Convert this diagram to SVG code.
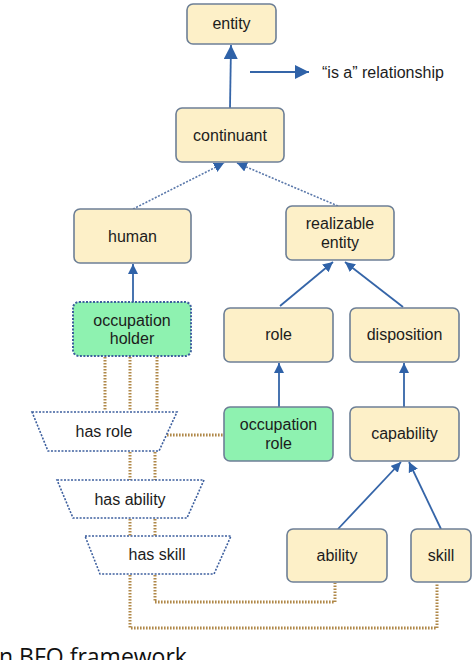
<svg xmlns="http://www.w3.org/2000/svg" width="474" height="660" viewBox="0 0 474 660">
<style>
.box{fill:#fdf0c8;stroke:#6d7f96;stroke-width:1.6}
.green{fill:#8ef2b0;stroke:#6d7f96;stroke-width:1.6}
.greendot{fill:#8ef2b0;stroke:#3d5f9e;stroke-width:2;stroke-dasharray:2 1.5}
.trap{fill:#ffffff;stroke:#3d5f9e;stroke-width:1.6;stroke-dasharray:2 1.5}
.t{font-family:"Liberation Sans",Arial,sans-serif;font-size:16px;fill:#1c1c1c;text-anchor:middle}
.isa{fill:none;stroke:#3565a8;stroke-width:1.8}
.isadot{fill:none;stroke:#5a78aa;stroke-width:1.6;stroke-dasharray:2 1.5}
.rel{fill:none;stroke:#b08848;stroke-width:3;stroke-dasharray:1.6 1.4}
</style>
<defs>
<marker id="ah" viewBox="0 0 10 10" refX="10" refY="5" markerWidth="10" markerHeight="10" markerUnits="userSpaceOnUse" orient="auto">
<path d="M0,0 L10,5 L0,10 Z" fill="#2f62a8"/>
</marker>
<marker id="ahL" viewBox="0 0 10 10" refX="10" refY="5" markerWidth="14" markerHeight="14" markerUnits="userSpaceOnUse" orient="auto">
<path d="M0,0 L10,5 L0,10 Z" fill="#2f62a8"/>
</marker>
</defs>

<g id="connectors">
<line class="isa" x1="230" y1="108" x2="231" y2="45" marker-end="url(#ahL)"/>
<line class="isa" x1="250" y1="72" x2="309" y2="72" marker-end="url(#ahL)"/>
<line class="isadot" x1="133" y1="209" x2="224" y2="163" marker-end="url(#ah)"/>
<line class="isadot" x1="338" y1="206" x2="237" y2="163" marker-end="url(#ah)"/>
<line class="isa" x1="133" y1="302" x2="133" y2="264" marker-end="url(#ah)"/>
<line class="isa" x1="280" y1="306" x2="333" y2="262" marker-end="url(#ah)"/>
<line class="isa" x1="403" y1="307" x2="345" y2="262" marker-end="url(#ah)"/>
<line class="isa" x1="279" y1="407" x2="279" y2="363" marker-end="url(#ah)"/>
<line class="isa" x1="404" y1="407" x2="404" y2="363" marker-end="url(#ah)"/>
<line class="isa" x1="338" y1="529" x2="401" y2="462" marker-end="url(#ah)"/>
<line class="isa" x1="441" y1="529" x2="409" y2="462" marker-end="url(#ah)"/>
<line class="rel" x1="105" y1="357" x2="105" y2="411"/>
<line class="rel" x1="130" y1="357" x2="130" y2="411"/>
<line class="rel" x1="157" y1="357" x2="157" y2="411"/>
<line class="rel" x1="167" y1="435" x2="224" y2="435"/>
<line class="rel" x1="130" y1="452" x2="130" y2="480"/>
<line class="rel" x1="155" y1="452" x2="155" y2="480"/>
<line class="rel" x1="130" y1="519" x2="130" y2="536"/>
<line class="rel" x1="155" y1="519" x2="155" y2="536"/>
<polyline class="rel" points="155,575 155,602 335,602 335,583"/>
<polyline class="rel" points="130,575 130,628 437,628 437,583"/>
</g>

<g id="entity"><rect class="box" x="187" y="4" width="89" height="40" rx="6"/><text class="t" x="231.5" y="29">entity</text></g>
<g id="isa-legend"><text x="322" y="78" font-family="Liberation Sans, Arial, sans-serif" font-size="16" fill="#1c1c1c">“is a” relationship</text></g>
<g id="continuant"><rect class="box" x="176" y="108" width="108" height="54" rx="6"/><text class="t" x="230" y="141">continuant</text></g>
<g id="human"><rect class="box" x="74" y="209" width="117" height="54" rx="6"/><text class="t" x="132.5" y="242">human</text></g>
<g id="realizable-entity"><rect class="box" x="286" y="206" width="108" height="54" rx="6"/><text class="t" x="340" y="229">realizable</text><text class="t" x="340" y="248">entity</text></g>
<g id="occupation-holder"><rect class="greendot" x="73" y="302" width="118" height="54" rx="6"/><text class="t" x="132" y="326">occupation</text><text class="t" x="132" y="344">holder</text></g>
<g id="role"><rect class="box" x="224" y="308" width="109" height="54" rx="6"/><text class="t" x="278.5" y="340">role</text></g>
<g id="disposition"><rect class="box" x="350" y="308" width="109" height="54" rx="6"/><text class="t" x="404.5" y="340">disposition</text></g>
<g id="has-role"><polygon class="trap" points="32,412 177,412 159,451 48,451"/><text class="t" x="104" y="437">has role</text></g>
<g id="occupation-role"><rect class="green" x="224" y="407" width="109" height="54" rx="6"/><text class="t" x="278.5" y="430">occupation</text><text class="t" x="278.5" y="449">role</text></g>
<g id="capability"><rect class="box" x="350" y="407" width="109" height="54" rx="6"/><text class="t" x="404.5" y="439">capability</text></g>
<g id="has-ability"><polygon class="trap" points="57,480 204,480 187,518 73,518" /><text class="t" x="130" y="505">has ability</text></g>
<g id="has-skill"><polygon class="trap" points="85,536 231,536 214,574 100,574"/><text class="t" x="157" y="560">has skill</text></g>
<g id="ability"><rect class="box" x="287" y="529" width="100" height="53" rx="6"/><text class="t" x="337" y="561">ability</text></g>
<g id="skill"><rect class="box" x="411" y="529" width="60" height="53" rx="6"/><text class="t" x="441" y="561">skill</text></g>
<g id="caption"><text x="-1" y="665" font-family="Open Sans, Liberation Sans, sans-serif" font-size="23" fill="#111">n BFO framework</text></g>
</svg>
